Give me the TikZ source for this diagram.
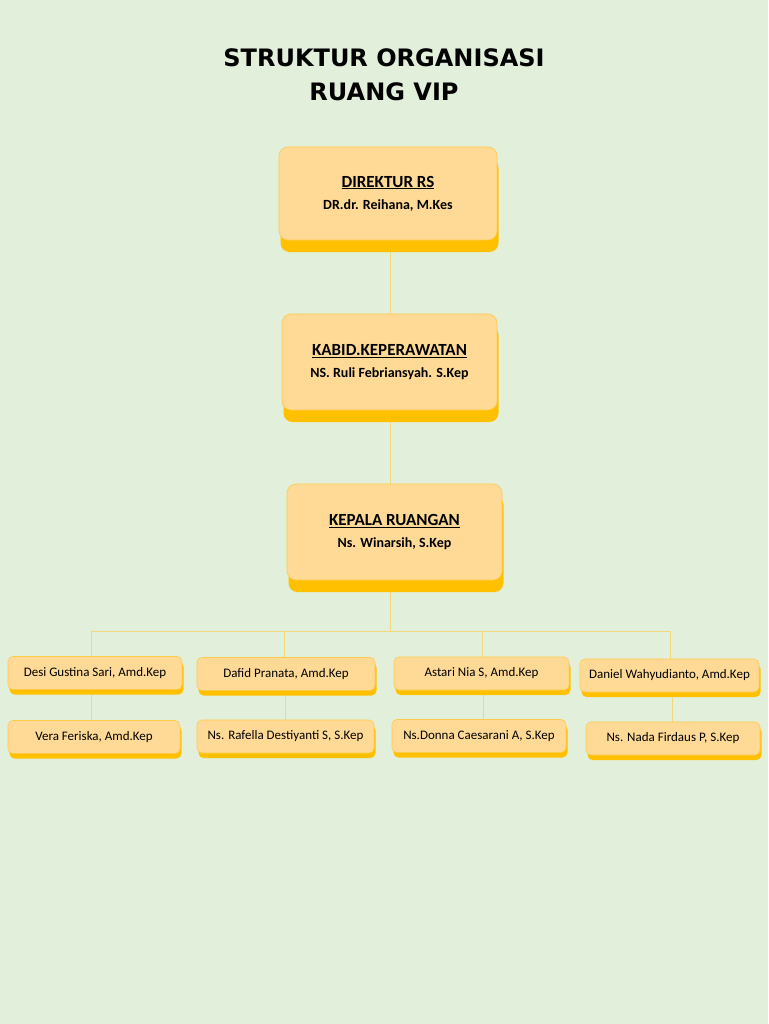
\documentclass[tikz,border=0pt]{standalone}
\usepackage{fontspec}
\setmainfont{Carlito}
\newfontfamily\titlefont{DejaVu Sans}
\usetikzlibrary{shadows}
\definecolor{bg}{HTML}{E2EFDA}
\definecolor{boxc}{HTML}{FFDA96}
\definecolor{edgec}{HTML}{FFC94A}
\definecolor{gold}{HTML}{FFC000}
\definecolor{linec}{HTML}{F3D77C}
\tikzset{
 bigbox/.style={rounded corners=9pt, fill=boxc, draw=edgec, line width=0.6pt, align=center, inner sep=0pt,
   drop shadow={shadow xshift=1.5pt, shadow yshift=-12pt, fill=gold, opacity=1}},
 smallbox/.style={rounded corners=5pt, fill=boxc, draw=edgec, line width=0.6pt, align=center, inner sep=0pt,
   minimum height=33pt, font=\fontsize{13}{15}\selectfont,
   drop shadow={shadow xshift=1.5pt, shadow yshift=-5pt, fill=gold, opacity=1}},
 conn/.style={draw=linec, line width=0.8pt}
}
\newcommand{\hd}[2]{{\fontsize{17}{20}\selectfont\bfseries\underline{#1}}\\[10pt]{\fontsize{14}{16}\selectfont\bfseries #2}}
\begin{document}
\begin{tikzpicture}[x=1pt,y=-1pt]
\fill[bg] (0,0) rectangle (768,1024);
\useasboundingbox (0,0) rectangle (768,1024);
\node[font=\titlefont\bfseries\fontsize{24}{28}\selectfont, align=center] (title) at (384,75) {STRUKTUR ORGANISASI\\[6pt]RUANG VIP};
% connectors first
\coordinate (h1) at (91,631); \coordinate (h4) at (670,631);
\coordinate (hm) at (390,631);
\draw[conn] (390,240) -- (390,314);
\draw[conn] (390,410) -- (390,484);
\draw[conn] (390,580) -- (hm);
\draw[conn] (h1) -- (h4);
\draw[conn] (91,631) -- (91,656);
\draw[conn] (284,631) -- (284,658);
\draw[conn] (482,631) -- (482,657);
\draw[conn] (670,631) -- (670,659);
\draw[conn] (91,690) -- (91,721);
\draw[conn] (285,690) -- (285,720);
\draw[conn] (483,690) -- (483,719);
\draw[conn] (672,692) -- (672,722);
\node[bigbox, minimum width=218pt, minimum height=93pt] (dir) at (388,193.5) {\hd{DIREKTUR RS}{DR.dr. Reihana, M.Kes}};
\node[bigbox, minimum width=215pt, minimum height=96pt] (kab) at (389.5,362) {\hd{KABID.KEPERAWATAN}{NS. Ruli Febriansyah. S.Kep}};
\node[bigbox, minimum width=215pt, minimum height=96pt] (kep) at (394.5,532) {\hd{KEPALA RUANGAN}{Ns. Winarsih, S.Kep}};
\node[smallbox, minimum width=174pt] (a1) at (95,673) {Desi Gustina Sari, Amd.Kep};
\node[smallbox, minimum width=178pt] (a2) at (286,674) {Dafid Pranata, Amd.Kep};
\node[smallbox, minimum width=175pt] (a3) at (481.5,673.5) {Astari Nia S, Amd.Kep};
\node[smallbox, minimum width=179pt] (a4) at (669.5,675.5) {Daniel Wahyudianto, Amd.Kep};
\node[smallbox, minimum width=172pt] (b1) at (94,737) {Vera Feriska, Amd.Kep};
\node[smallbox, minimum width=177pt] (b2) at (285.5,736.5) {Ns. Rafella Destiyanti S, S.Kep};
\node[smallbox, minimum width=174pt] (b3) at (479,736) {Ns.Donna Caesarani A, S.Kep};
\node[smallbox, minimum width=174pt] (b4) at (673,738.5) {Ns. Nada Firdaus P, S.Kep};
\end{tikzpicture}
\end{document}
